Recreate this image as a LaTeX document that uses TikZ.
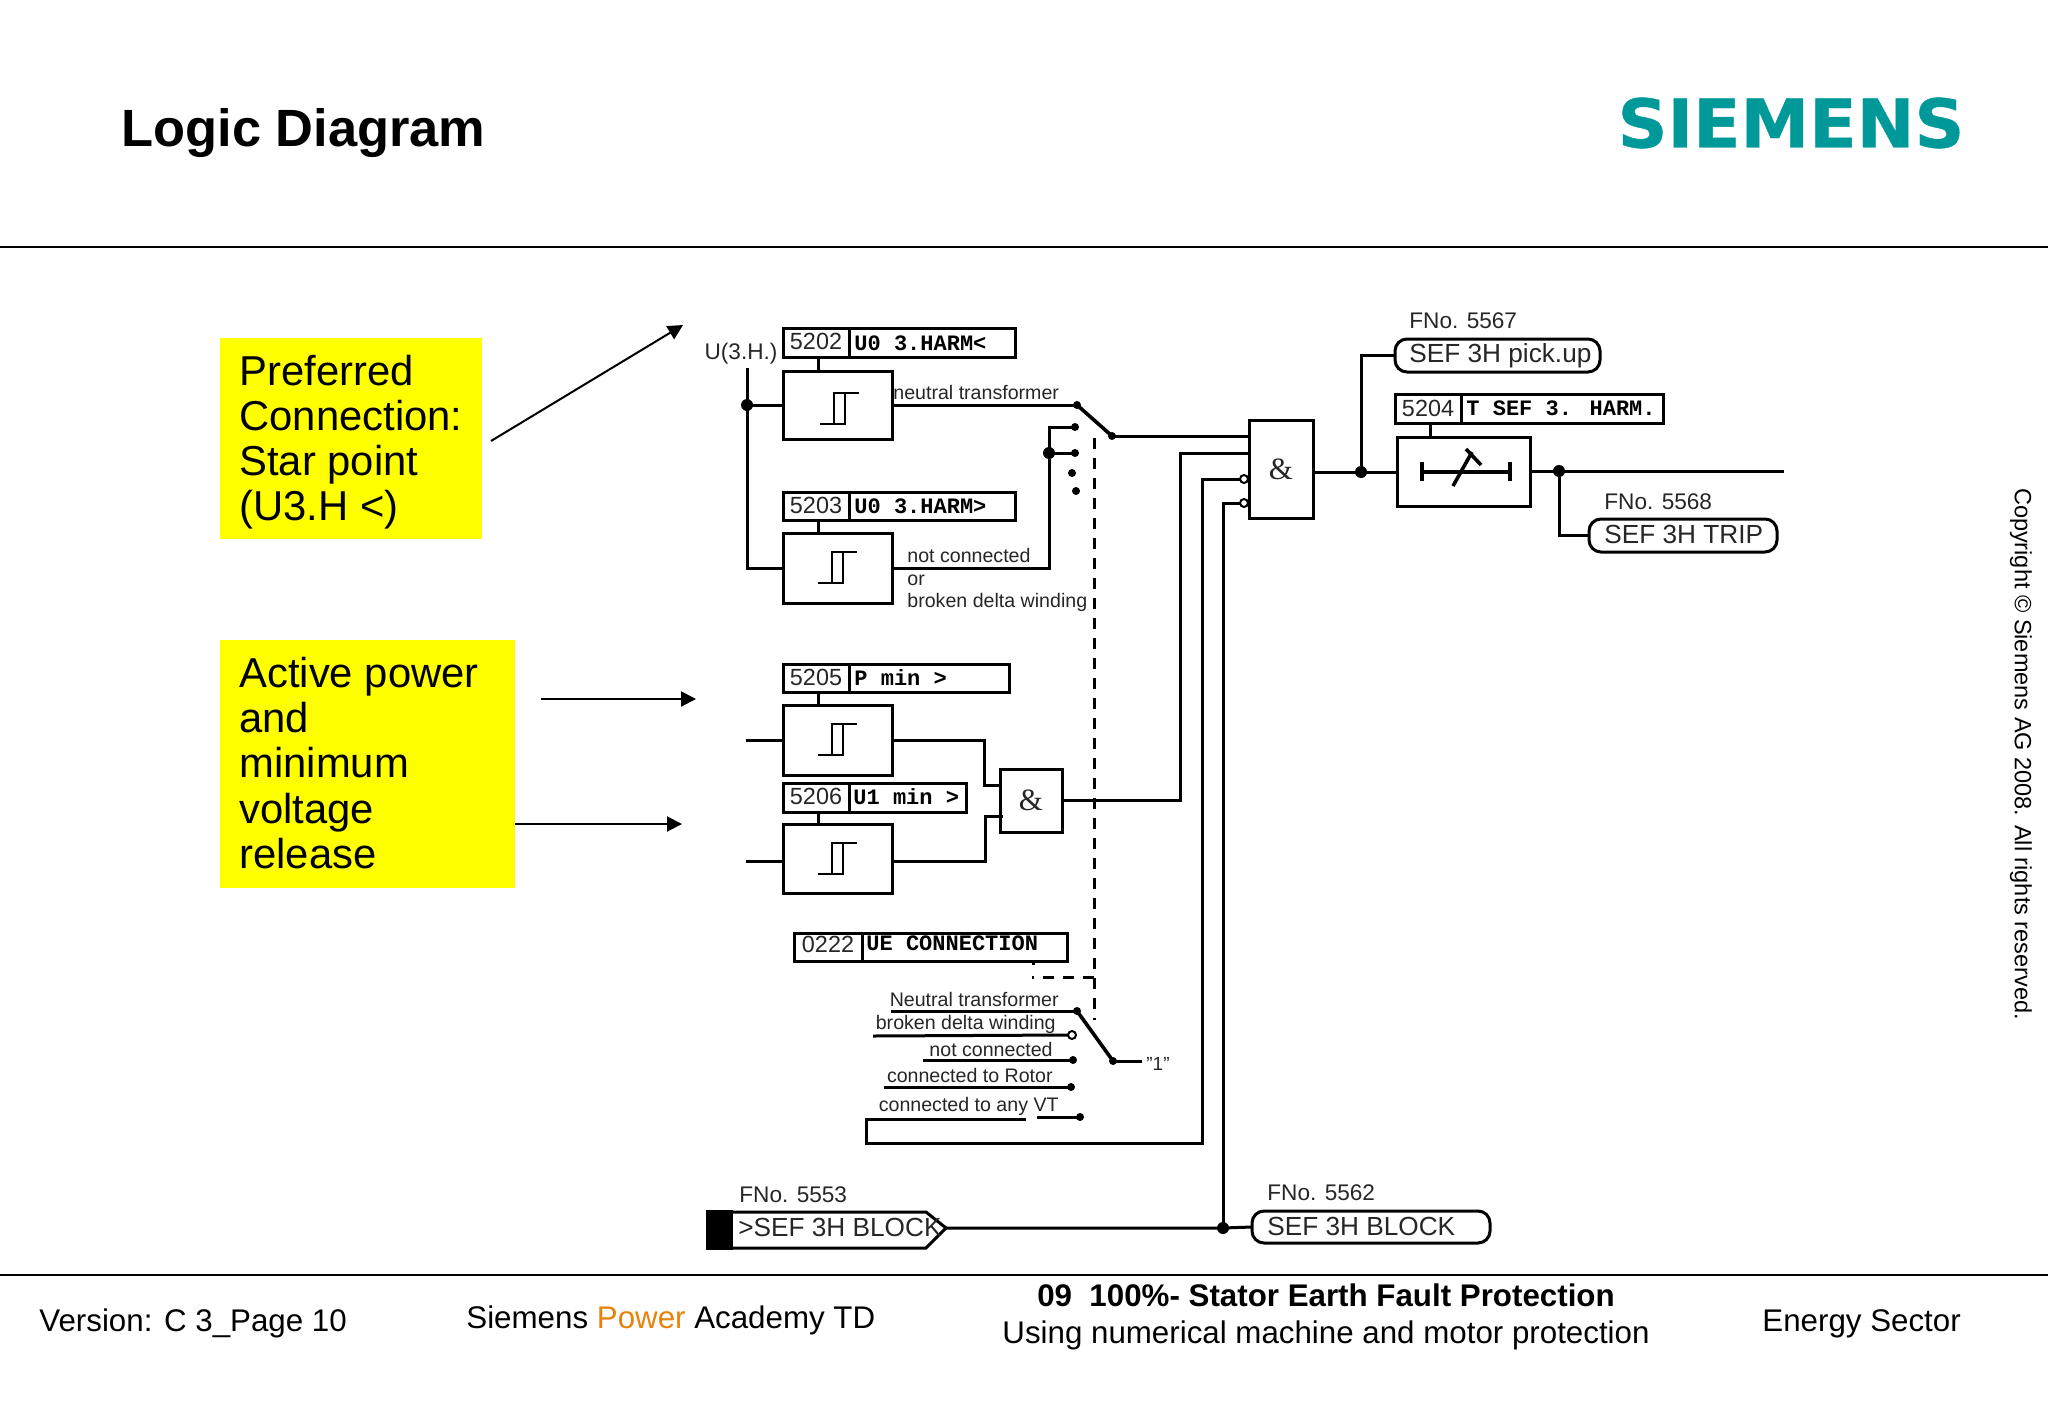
\documentclass[tikz,border=0pt]{standalone}
\usepackage{fontspec}
\usepackage{graphicx}
\setmainfont{Liberation Sans}
\newfontfamily\logofont{DejaVu Sans Bold}[FakeBold=0.6]
\newfontfamily\lmono{Liberation Mono}
\newfontfamily\lserif{Liberation Serif}
\usetikzlibrary{arrows.meta}
\definecolor{sieteal}{HTML}{009999}
\definecolor{powerorange}{HTML}{E8820C}
\definecolor{noteyellow}{HTML}{FFFF00}
\definecolor{labelgrey}{HTML}{262626}
\newcommand\pxbox[6]{%
  \pgfmathsetmacro\pxcx{(#2+#4)/2}\pgfmathsetmacro\pxcy{(#3+#5)/2}%
  \pgfmathsetmacro\pxw{abs(#4-#2)*0.5}\pgfmathsetmacro\pxh{abs(#5-#3)*0.5}%
  \node[blockbox,minimum width=\pxw pt,minimum height=\pxh pt,#6] (#1) at (\pxcx,\pxcy)}
\newcommand\stepsym[2]{%
  \draw[symline] (#1,#2) -- ++(26,0) (#1+14,#2) -- ++(0,-31) -- ++(25,0) (#1+25,#2-31) -- ++(0,31);}
\tikzset{
  x=0.5pt,y=-0.5pt,
  blockbox/.style={draw=black,line width=1.5pt,fill=white,inner sep=0pt,outer sep=0pt},
  wire/.style={draw=black,line width=1.5pt,line join=miter},
  symline/.style={draw=black,line width=1.3pt},
  dashwire/.style={draw=black,line width=1.5pt,dash pattern=on 5.5pt off 4.5pt},
  note/.style={fill=noteyellow,inner sep=0pt,outer sep=0pt},
  notetext/.style={anchor=west,align=left,font=\fontsize{20.9}{22.6}\selectfont,text=black,inner sep=0pt},
  lbl/.style={anchor=west,inner sep=0pt,text=labelgrey,font=\fontsize{9.8}{11}\selectfont},
  fno/.style={anchor=west,inner sep=0pt,text=labelgrey,font=\fontsize{11.3}{13}\selectfont},
  sig/.style={anchor=west,inner sep=0pt,text=labelgrey,font=\fontsize{13.1}{15}\selectfont},
  numtext/.style={font=\fontsize{11.7}{13}\selectfont,text=labelgrey},
  monotext/.style={anchor=west,inner sep=0pt,font=\lmono\bfseries\fontsize{11}{13}\selectfont},
  pill/.style={draw=black,line width=1.5pt,rounded corners=6pt,fill=white,inner sep=0pt,outer sep=0pt},
  jdot/.style={circle,fill=black,inner sep=0pt,outer sep=0pt,minimum size=6pt},
  swdot/.style={circle,fill=black,inner sep=0pt,outer sep=0pt,minimum size=4pt},
  opendot/.style={circle,draw=black,line width=1pt,fill=white,inner sep=0pt,outer sep=0pt,minimum size=4pt},
  arrowline/.style={draw=black,line width=1pt,-{Triangle[length=7.5pt,width=7.5pt]}},
  rulel/.style={draw=black,line width=0.8pt},
  foot/.style={inner sep=0pt,font=\fontsize{15.65}{18}\selectfont,text=black},
  amp/.style={font=\lserif\fontsize{15.5}{17}\selectfont,text=labelgrey}
}
\begin{document}
\begin{tikzpicture}
\useasboundingbox (0,0) rectangle (2048,1418);
\fill[white] (0,0) rectangle (2048,1418);
% header and footer
\node[anchor=west,inner sep=0pt,font=\bfseries\fontsize{26.2}{30}\selectfont] (title) at (121,133) {Logic Diagram};
\node[inner sep=0pt,font=\logofont\fontsize{33.6}{36}\selectfont,text=sieteal] (logo) at (1791,123) {\scalebox{1.03}[1]{SIEMENS}};
\coordinate (ruleAl) at (0,247); \coordinate (ruleAr) at (2048,247);
\coordinate (ruleBl) at (0,1275); \coordinate (ruleBr) at (2048,1275);
\draw[rulel] (ruleAl) -- (ruleAr);
\draw[rulel] (ruleBl) -- (ruleBr);
\node[foot,anchor=west] (fver) at (39,1323) {Version: C 3\_Page 10};
\node[foot,anchor=west] (facad) at (466,1320) {Siemens \textcolor{powerorange}{Power} Academy TD};
\node[foot] (ftitle) at (1326,1295) {\bfseries 09\ \ 100\%- Stator Earth Fault Protection};
\node[foot] (fsub) at (1326,1335) {Using numerical machine and motor protection};
\node[foot,anchor=west] (fsec) at (1762,1324) {Energy Sector};
\node[inner sep=0pt,rotate=-90,font=\fontsize{11.76}{14}\selectfont] (copy) at (2021,754) {Copyright © Siemens AG 2008. All rights reserved.};
% yellow notes
\pxbox{noteA}{220}{338}{482}{539}{note,draw=none}{};
\pxbox{noteB}{220}{640}{515}{888}{note,draw=none}{};
\node[notetext] (noteAt) at (239,442) {Preferred\\Connection:\\Star point\\(U3.H <)};
\node[notetext] (noteBt) at (239,763) {Active power\\and\\minimum\\voltage\\release};
\coordinate (arA0) at (491,441); \coordinate (arA1) at (683,325);
\coordinate (arB0) at (541,699); \coordinate (arB1) at (696,699);
\coordinate (arC0) at (515,824); \coordinate (arC1) at (682,824);
\draw[arrowline] (arA0) -- (arA1);
\draw[arrowline] (arB0) -- (arB1);
\draw[arrowline] (arC0) -- (arC1);
% U(3.H.) input
\node[fno,anchor=center] (u3h) at (741,354) {U(3.H.)};
\coordinate (u3top) at (747,368);
% comparators
\pxbox{comp1}{783}{371}{892}{439}{}{};
\pxbox{comp2}{783}{533}{892}{603}{}{};
\pxbox{comp3}{783}{705}{892}{775}{}{};
\pxbox{comp4}{783}{824}{892}{893}{}{};
\stepsym{820}{424}
\stepsym{818}{583}
\stepsym{818}{755}
\stepsym{818}{874}
% parameter boxes
\pxbox{pa1}{783}{328}{849}{357}{numtext}{\raisebox{1pt}{5202}};
\pxbox{pa2}{849}{328}{1015}{357}{}{};
\node[monotext] (pa2t) at (854,343) {U0 3.HARM<};
\pxbox{pb1}{783}{492}{849}{520}{numtext}{\raisebox{1pt}{5203}};
\pxbox{pb2}{849}{492}{1015}{520}{}{};
\node[monotext] (pb2t) at (854,506) {U0 3.HARM>};
\pxbox{pc1}{783}{664}{849}{692}{numtext}{\raisebox{1pt}{5205}};
\pxbox{pc2}{849}{664}{1009}{692}{}{};
\node[monotext] (pc2t) at (854,678) {P min >};
\pxbox{pd1}{783}{783}{849}{812}{numtext}{\raisebox{1pt}{5206}};
\pxbox{pd2}{849}{783}{966}{812}{}{};
\node[monotext] (pd2t) at (853,797) {U1 min >};
\pxbox{pe1}{794}{933}{862}{961}{numtext}{\raisebox{2.5pt}{0222}};
\pxbox{pe2}{862}{933}{1067}{961}{}{};
\node[monotext] (pe2t) at (866,943) {UE CONNECTION};
\pxbox{pf1}{1395}{394}{1461}{423}{numtext}{\raisebox{0.5pt}{5204}};
\pxbox{pf2}{1461}{394}{1663}{423}{}{};
\node[monotext] (pf2t) at (1466,408) {T SEF 3. HARM.};
% stubs parameter -> element
\coordinate (s1a) at (818,357); \coordinate (s1b) at (818,371);
\coordinate (s2a) at (818,520); \coordinate (s2b) at (818,533);
\coordinate (s3a) at (818,692); \coordinate (s3b) at (818,705);
\coordinate (s4a) at (818,812); \coordinate (s4b) at (818,824);
\coordinate (s5a) at (1430,423); \coordinate (s5b) at (1430,437);
\draw[wire] (s1a) -- (s1b);
\draw[wire] (s2a) -- (s2b);
\draw[wire] (s3a) -- (s3b);
\draw[wire] (s4a) -- (s4b);
\draw[wire] (s5a) -- (s5b);
% logic gates
\pxbox{and1}{1249}{420}{1313}{518}{amp}{\&};
\pxbox{and2}{1000}{769}{1062}{832}{amp}{\&};
\pxbox{delay}{1397}{437}{1530}{506}{}{};
\coordinate (dlA) at (1422,472); \coordinate (dlB) at (1510,472);
\draw[draw=black,line width=2.2pt] (dlA) -- (dlB);
\draw[draw=black,line width=1.6pt] (1422,462) -- (1422,481) (1510,462) -- (1510,481);
\draw[draw=black,line width=1.8pt] (1453,486) -- (1472,452) (1466,449) -- (1481,465);
% U3 wiring
\node[jdot] (d1) at (747,405) {};
\draw[wire] (u3top) -- (d1.center) |- (comp2.west);
\draw[wire] (d1.center) -- (comp1.west);
% switch 1
\node[swdot] (sw1a) at (1077,405) {};
\node[swdot] (sw1b) at (1112,436) {};
\node[swdot] (sw1c) at (1075,427) {};
\node[swdot] (sw1d) at (1075,453) {};
\node[swdot] (sw1e) at (1072,473) {};
\node[swdot] (sw1f) at (1076,491) {};
\node[jdot] (d2) at (1049,453) {};
\draw[wire] (comp1.east) -- (sw1a.center);
\draw[draw=black,line width=1.8pt] (sw1a.center) -- (sw1b.center);
\draw[wire] (comp2.east) -| (d2.center) |- (sw1c.center);
\draw[wire] (d2.center) -- (sw1d.center);
\node[lbl] (tneu) at (893,392) {neutral transformer};
\node[lbl] (tnot) at (907,555) {not connected};
\node[lbl] (tor) at (907,580) {or};
\node[lbl] (tbrk) at (907,602) {broken delta winding};
% dashed control line
\coordinate (dashtop) at (1094,438);
\coordinate (dashcorner) at (1094,977);
\coordinate (dashleft) at (1032,977);
\coordinate (dashlow) at (1094,1020);
\coordinate (dashtickA) at (1033,961);
\coordinate (dashtickB) at (1033,965);
\draw[dashwire] (dashtop) -- (dashlow);
\draw[dashwire] (dashcorner) -- (dashleft);
\draw[wire] (dashtickA) -- (dashtickB);
% and inputs
\coordinate (a1i1) at (1249,436);
\coordinate (a1i2) at (1249,453);
\node[opendot] (a1n3) at (1244,479) {};
\node[opendot] (a1n4) at (1244,503) {};
\coordinate (vA) at (1180,453);
\draw[wire] (sw1b.center) -- (a1i1);
\draw[wire] (and2.east) -| (vA) -- (a1i2);
% and2 inputs
\coordinate (a2i1) at (1000,785); \coordinate (a2i2) at (1003,816);
\coordinate (st3) at (746,740); \coordinate (st4) at (746,861);
\coordinate (comp4out) at (892,861); \coordinate (comp4in) at (783,861);
\draw[wire] (st3) -- (comp3.west);
\draw[wire] (st4) -- (comp4in);
\draw[wire] (comp3.east) -| (984,785) -- (a2i1);
\draw[wire] (comp4out) -| (985,816) -- (a2i2);
% selector 2
\node[swdot] (sw2a) at (1077,1011) {};
\node[swdot] (sw2b) at (1113,1061) {};
\node[opendot] (sw2c) at (1072,1035) {};
\node[swdot] (sw2d) at (1073,1060) {};
\node[swdot] (sw2e) at (1071,1087) {};
\node[swdot] (sw2f) at (1080,1117) {};
\coordinate (l1) at (891,1011); \coordinate (l2) at (873,1036);
\coordinate (l3) at (923,1060); \coordinate (l4) at (884,1087);
\coordinate (l5a) at (1037,1117);
\coordinate (one) at (1142,1061);
\draw[wire] (l1) -- (sw2a.center);
\draw[draw=black,line width=1.8pt] (sw2a.center) -- (sw2b.center);
\draw[wire] (sw2b.center) -- (one);
\draw[wire] (l2) -- (sw2c.west);
\draw[wire] (l3) -- (sw2d.center);
\draw[wire] (l4) -- (sw2e.center);
\draw[wire] (l5a) -- (sw2f.center);
\coordinate (loopA) at (1026,1119);
\coordinate (loopB) at (866,1119);
\coordinate (loopC) at (866,1143);
\coordinate (loopD) at (1202,1143);
\coordinate (loopE) at (1202,479);
\draw[wire] (loopA) -- (loopB) -- (loopC) -- (loopD) -- (loopE) -- (a1n3.west);
\node[fno,font=\fontsize{9.5}{11}\selectfont] (t1) at (1146,1064) {"1"};
\node[lbl,anchor=east] (n1) at (1059,999) {Neutral transformer};
\node[lbl,anchor=east] (n2) at (1056,1024) {broken delta winding};
\node[lbl,anchor=east] (n3) at (1053,1049) {not connected};
\node[lbl,anchor=east] (n4) at (1053,1075) {connected to Rotor};
\node[lbl,anchor=east] (n5) at (1059,1106) {connected to any VT};
% block signal
\node[jdot] (d3) at (1223,1228) {};
\coordinate (bkA) at (733,1212); \coordinate (bkB) at (926,1212);
\coordinate (bkTip) at (946,1228);
\coordinate (bkC) at (926,1248); \coordinate (bkD) at (733,1248);
\fill[black] (706,1210) rectangle (733,1250);
\draw[wire] (bkA) -- (bkB) -- (bkTip) -- (bkC) -- (bkD);
\node[sig] (blockin) at (738,1227) {>SEF 3H BLOCK};
\node[fno] (f5553) at (739,1195) {FNo. 5553};
\pxbox{pillblock}{1252}{1211}{1490}{1243}{pill}{};
\node[sig] (tblock) at (1267,1226) {SEF 3H BLOCK};
\node[fno] (f5562) at (1267,1193) {FNo. 5562};
\draw[wire] (bkTip) -- (d3.center) -- (pillblock.west);
\draw[wire] (d3.center) -- (d3.center |- a1n4) -- (a1n4.west);
% and output
\node[jdot] (d4) at (1361,472) {};
\coordinate (a1out) at (1313,472);
\coordinate (dlin) at (1397,472);
\pxbox{pillpick}{1395}{339}{1600}{372}{pill}{};
\node[sig] (tpick) at (1409,356) {SEF 3H pick.up};
\node[fno] (f5567) at (1409,321) {FNo. 5567};
\draw[wire] (a1out) -- (d4.center) -- (dlin);
\draw[wire] (d4.center) |- (pillpick.west);
% delay output
\node[jdot] (d5) at (1559,471) {};
\coordinate (outend) at (1784,471);
\coordinate (dlout) at (1530,471);
\pxbox{pilltrip}{1589}{519}{1777}{552}{pill}{};
\node[sig] (ttrip) at (1604,534) {SEF 3H TRIP};
\node[fno] (f5568) at (1604,502) {FNo. 5568};
\draw[wire] (dlout) -- (d5.center) -- (outend);
\draw[wire] (d5.center) |- (pilltrip.west);
\end{tikzpicture}
\end{document}
